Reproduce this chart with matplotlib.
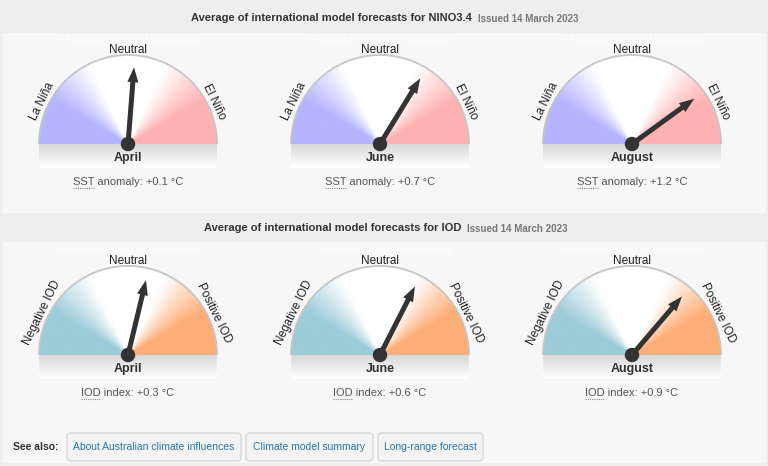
"""Gauges of model forecasts for NINO3.4 and IOD"""
import matplotlib
matplotlib.use("Agg")
import matplotlib.pyplot as plt
import numpy as np
from matplotlib.patches import Rectangle, Wedge, Arc, Circle, FancyArrow, FancyBboxPatch

plt.rcParams['font.family'] = ['Liberation Sans', 'DejaVu Sans']

W, H = 768, 466

months = ["April", "June", "August"]
nino_values = [0.1, 0.7, 1.2]
iod_values = [0.3, 0.6, 0.9]
issued = "Issued 14 March 2023"
links = ["About Australian climate influences", "Climate model summary", "Long-range forecast"]

# gauge range is -2..+2 °C over the half circle
GAUGE_MAX = 2.0
R = 89
centers_x = [128, 380, 632]


def fan_image(left_col, right_col, n=200):
    """rgb image of the half disc, colour fading with the angle"""
    xs = np.linspace(-1, 1, n)
    ys = np.linspace(1, 0, n // 2)
    gx, gy = np.meshgrid(xs, ys)
    th = np.degrees(np.arctan2(gy, gx))
    wr = np.clip((64 - th) / 34, 0, 1)[..., None]
    wl = np.clip((th - 116) / 34, 0, 1)[..., None]
    lc = np.array(matplotlib.colors.to_rgb(left_col))
    rc = np.array(matplotlib.colors.to_rgb(right_col))
    img = 1 - wr * (1 - rc) - wl * (1 - lc)
    return np.clip(img, 0, 1)


def draw_gauge(ax, cx, cy, value, left_col, right_col, left_lab, right_lab, month):
    clip = Wedge((cx, cy), R, 180, 360, transform=ax.transData)
    im = ax.imshow(fan_image(left_col, right_col), aspect='auto', interpolation='bilinear',
                   extent=(cx - R, cx + R, cy, cy - R), zorder=2)
    im.set_clip_path(clip)
    ax.add_patch(Arc((cx, cy), 2 * R, 2 * R, theta1=180, theta2=360,
                     color='#c6c6c6', lw=1.3, zorder=3))

    # grey shadow band under the gauge
    grad = np.linspace(0.85, 1.0, 30)[:, None]
    ax.imshow(grad, cmap='gray', vmin=0, vmax=1, aspect='auto',
              extent=(cx - R, cx + R, cy + 24, cy), zorder=2)

    ax.text(cx, cy - R - 5, "Neutral", ha='center', va='center', fontsize=8.5, color='#222')
    for lab, sgn in ((left_lab, -1), (right_lab, 1)):
        a = np.radians(26)
        ax.text(cx + sgn * 96 * np.cos(a), cy - 96 * np.sin(a), lab, ha='center', va='center',
                rotation=-sgn * 64, rotation_mode='anchor', fontsize=8.5, color='#222')

    ang = np.radians(value / GAUGE_MAX * 90)
    L = 77
    ax.add_patch(FancyArrow(cx, cy, L * np.sin(ang), -L * np.cos(ang), width=5,
                            head_width=11, head_length=15, length_includes_head=True,
                            color='#333333', lw=0, zorder=5))
    ax.add_patch(Circle((cx, cy), 6.5, color='#333333', zorder=6))
    ax.text(cx, cy + 14, month, ha='center', va='center', fontsize=9, fontweight='bold', color='#333')
    ax.text(cx, cy - R - 16, "\u00a9 Australian Bureau of Meteorology", ha='center', va='center',
            fontsize=6.5, color='white', zorder=1)


fig = plt.figure(figsize=(W / 100, H / 100), dpi=100)
ax = fig.add_axes([0, 0, 1, 1])
ax.set_xlim(0, W)
ax.set_ylim(H, 0)
ax.axis('off')
fig.patch.set_facecolor('#eeeeee')

# panels
ax.add_patch(Rectangle((3, 33), 763, 180, facecolor='#f7f7f7', edgecolor='none', zorder=0))
ax.add_patch(Rectangle((3, 242), 763, 221, facecolor='#f7f7f7', edgecolor='none', zorder=0))

sections = [
    ("Average of international model forecasts for NINO3.4", 18, 472, 144, nino_values,
     '#b4b4ff', '#ffb2b2', "La Niña", "El Niño", "SST", "anomaly"),
    ("Average of international model forecasts for IOD", 228, 461, 355, iod_values,
     '#9ccbd9', '#fdae78', "Negative IOD", "Positive IOD", "IOD", "index"),
]

underline_jobs = []
for title, ty, tx, cy, vals, lc, rc, ll, rl, abbr, word in sections:
    ax.text(tx, ty, title, ha='right', va='center', fontsize=8, fontweight='bold', color='#333')
    ax.text(tx + 6, ty + 0.5, issued, ha='left', va='center', fontsize=7, fontweight='bold', color='#777')
    for cx, v, m in zip(centers_x, vals, months):
        draw_gauge(ax, cx, cy, v, lc, rc, ll, rl, m)
        t = ax.text(cx, cy + 38, f"{abbr} {word}: {v:+.1f} °C", ha='center', va='center',
                    fontsize=8, color='#555')
        underline_jobs.append((t, abbr))

# see also bar
ax.text(13, 447, "See also:", ha='left', va='center', fontsize=7.5, fontweight='bold', color='#333')
btn_x = [67, 246, 378]
btn_w = [174, 127, 105]
for x0, bw, lab in zip(btn_x, btn_w, links):
    ax.add_patch(FancyBboxPatch((x0, 433), bw, 28, boxstyle="round,pad=0,rounding_size=4",
                                facecolor='#f3f3f3', edgecolor='#d9d9d9', lw=1, zorder=1))
    ax.text(x0 + bw / 2, 447, lab, ha='center', va='center', fontsize=7.5, color='#2a78ad', zorder=2)

# dotted underline under the abbreviations
fig.canvas.draw()
rend = fig.canvas.get_renderer()
inv = ax.transData.inverted()
for t, abbr in underline_jobs:
    bb = t.get_window_extent(rend)
    tmp = ax.text(0, 0, abbr, fontsize=t.get_fontsize())
    aw = tmp.get_window_extent(rend).width
    tmp.remove()
    (x0, y0) = inv.transform((bb.x0, bb.y0))
    ax.plot([x0, x0 + aw], [y0 + 0.5, y0 + 0.5], color='#888', lw=0.8, ls=(0, (1, 1)))

fig.savefig("out.png", dpi=100, facecolor=fig.get_facecolor())
